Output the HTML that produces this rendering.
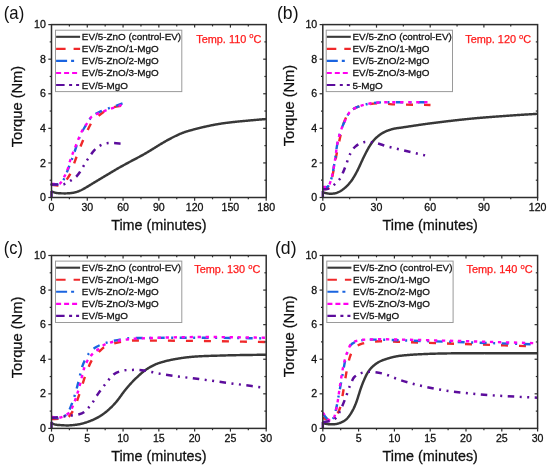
<!DOCTYPE html>
<html><head><meta charset="utf-8"><style>
html,body{margin:0;padding:0;background:#fff;width:550px;height:467px;overflow:hidden}
svg{display:block;font-family:"Liberation Sans",sans-serif;filter:blur(0.25px)}
text{stroke:currentColor;stroke-width:0.28px}
</style></head><body>
<svg width="550" height="467" viewBox="0 0 550 467">
<rect width="550" height="467" fill="#fff"/>
<path d="M51.50,191.44 L52.00,191.63 L52.50,191.82 L53.00,192.02 L53.50,192.20 L54.00,192.37 L54.50,192.53 L55.00,192.67 L55.50,192.79 L56.00,192.89 L56.50,192.97 L57.00,193.04 L57.50,193.10 L58.00,193.15 L58.50,193.19 L59.00,193.22 L59.50,193.25 L60.00,193.28 L60.50,193.30 L61.00,193.33 L61.50,193.35 L62.00,193.36 L62.50,193.38 L63.00,193.39 L63.50,193.40 L64.00,193.41 L64.50,193.41 L65.00,193.41 L65.50,193.41 L66.00,193.40 L66.50,193.38 L67.00,193.37 L67.50,193.34 L68.00,193.32 L68.50,193.29 L69.00,193.25 L69.50,193.21 L70.00,193.16 L70.50,193.11 L71.00,193.05 L71.50,192.99 L72.00,192.92 L72.50,192.85 L73.00,192.77 L73.50,192.69 L74.00,192.60 L74.50,192.50 L75.00,192.39 L75.50,192.27 L76.00,192.14 L76.50,192.01 L77.00,191.86 L77.50,191.70 L78.00,191.53 L78.50,191.35 L79.00,191.15 L79.50,190.94 L80.00,190.72 L80.50,190.49 L81.00,190.25 L81.50,190.01 L82.00,189.75 L82.50,189.48 L83.00,189.21 L83.50,188.94 L84.00,188.65 L84.50,188.37 L85.00,188.08 L85.50,187.79 L86.00,187.50 L86.50,187.21 L87.00,186.91 L87.50,186.61 L88.00,186.32 L88.50,186.02 L89.00,185.71 L89.50,185.41 L90.00,185.11 L90.50,184.80 L91.00,184.50 L91.50,184.19 L92.00,183.89 L92.50,183.58 L93.00,183.27 L93.50,182.97 L94.00,182.66 L94.50,182.36 L95.00,182.06 L95.50,181.75 L96.00,181.45 L96.50,181.15 L97.00,180.85 L97.50,180.55 L98.00,180.25 L98.50,179.95 L99.00,179.65 L99.50,179.35 L100.00,179.05 L100.50,178.75 L101.00,178.45 L101.50,178.16 L102.00,177.86 L102.50,177.56 L103.00,177.26 L103.50,176.96 L104.00,176.67 L104.50,176.37 L105.00,176.07 L105.50,175.77 L106.00,175.47 L106.50,175.17 L107.00,174.88 L107.50,174.58 L108.00,174.28 L108.50,173.98 L109.00,173.68 L109.50,173.38 L110.00,173.08 L110.50,172.78 L111.00,172.47 L111.50,172.17 L112.00,171.88 L112.50,171.58 L113.00,171.28 L113.50,170.98 L114.00,170.68 L114.50,170.39 L115.00,170.09 L115.50,169.80 L116.00,169.50 L116.50,169.21 L117.00,168.92 L117.50,168.63 L118.00,168.35 L118.50,168.06 L119.00,167.78 L119.50,167.50 L120.00,167.21 L120.50,166.93 L121.00,166.65 L121.50,166.38 L122.00,166.10 L122.50,165.82 L123.00,165.55 L123.50,165.27 L124.00,165.00 L124.50,164.73 L125.00,164.46 L125.50,164.18 L126.00,163.91 L126.50,163.64 L127.00,163.37 L127.50,163.10 L128.00,162.83 L128.50,162.56 L129.00,162.29 L129.50,162.02 L130.00,161.76 L130.50,161.49 L131.00,161.22 L131.50,160.96 L132.00,160.69 L132.50,160.43 L133.00,160.16 L133.50,159.90 L134.00,159.64 L134.50,159.37 L135.00,159.11 L135.50,158.85 L136.00,158.58 L136.50,158.32 L137.00,158.06 L137.50,157.79 L138.00,157.53 L138.50,157.26 L139.00,156.99 L139.50,156.72 L140.00,156.46 L140.50,156.18 L141.00,155.91 L141.50,155.64 L142.00,155.36 L142.50,155.09 L143.00,154.81 L143.50,154.53 L144.00,154.24 L144.50,153.96 L145.00,153.67 L145.50,153.38 L146.00,153.09 L146.50,152.80 L147.00,152.50 L147.50,152.21 L148.00,151.91 L148.50,151.61 L149.00,151.31 L149.50,151.00 L150.00,150.70 L150.50,150.39 L151.00,150.09 L151.50,149.78 L152.00,149.47 L152.50,149.16 L153.00,148.85 L153.50,148.54 L154.00,148.23 L154.50,147.92 L155.00,147.61 L155.50,147.29 L156.00,146.98 L156.50,146.67 L157.00,146.36 L157.50,146.05 L158.00,145.74 L158.50,145.44 L159.00,145.13 L159.50,144.82 L160.00,144.52 L160.50,144.22 L161.00,143.91 L161.50,143.61 L162.00,143.32 L162.50,143.02 L163.00,142.73 L163.50,142.43 L164.00,142.14 L164.50,141.85 L165.00,141.57 L165.50,141.28 L166.00,141.00 L166.50,140.72 L167.00,140.44 L167.50,140.17 L168.00,139.89 L168.50,139.62 L169.00,139.35 L169.50,139.08 L170.00,138.82 L170.50,138.55 L171.00,138.29 L171.50,138.03 L172.00,137.77 L172.50,137.52 L173.00,137.26 L173.50,137.01 L174.00,136.76 L174.50,136.51 L175.00,136.27 L175.50,136.02 L176.00,135.78 L176.50,135.54 L177.00,135.31 L177.50,135.07 L178.00,134.84 L178.50,134.61 L179.00,134.39 L179.50,134.16 L180.00,133.95 L180.50,133.73 L181.00,133.52 L181.50,133.32 L182.00,133.12 L182.50,132.92 L183.00,132.73 L183.50,132.55 L184.00,132.37 L184.50,132.19 L185.00,132.03 L185.50,131.86 L186.00,131.70 L186.50,131.54 L187.00,131.39 L187.50,131.24 L188.00,131.09 L188.50,130.94 L189.00,130.80 L189.50,130.65 L190.00,130.51 L190.50,130.37 L191.00,130.23 L191.50,130.09 L192.00,129.95 L192.50,129.81 L193.00,129.68 L193.50,129.54 L194.00,129.41 L194.50,129.28 L195.00,129.14 L195.50,129.01 L196.00,128.88 L196.50,128.75 L197.00,128.62 L197.50,128.50 L198.00,128.37 L198.50,128.24 L199.00,128.12 L199.50,127.99 L200.00,127.87 L200.50,127.75 L201.00,127.63 L201.50,127.51 L202.00,127.39 L202.50,127.27 L203.00,127.16 L203.50,127.04 L204.00,126.93 L204.50,126.81 L205.00,126.70 L205.50,126.59 L206.00,126.47 L206.50,126.36 L207.00,126.25 L207.50,126.15 L208.00,126.04 L208.50,125.93 L209.00,125.83 L209.50,125.72 L210.00,125.62 L210.50,125.51 L211.00,125.41 L211.50,125.31 L212.00,125.21 L212.50,125.11 L213.00,125.01 L213.50,124.92 L214.00,124.82 L214.50,124.73 L215.00,124.63 L215.50,124.54 L216.00,124.45 L216.50,124.36 L217.00,124.27 L217.50,124.19 L218.00,124.10 L218.50,124.02 L219.00,123.93 L219.50,123.85 L220.00,123.77 L220.50,123.69 L221.00,123.62 L221.50,123.54 L222.00,123.47 L222.50,123.39 L223.00,123.32 L223.50,123.25 L224.00,123.18 L224.50,123.11 L225.00,123.04 L225.50,122.98 L226.00,122.91 L226.50,122.85 L227.00,122.78 L227.50,122.72 L228.00,122.66 L228.50,122.60 L229.00,122.54 L229.50,122.48 L230.00,122.42 L230.50,122.36 L231.00,122.30 L231.50,122.24 L232.00,122.19 L232.50,122.13 L233.00,122.07 L233.50,122.02 L234.00,121.96 L234.50,121.91 L235.00,121.85 L235.50,121.80 L236.00,121.75 L236.50,121.70 L237.00,121.65 L237.50,121.60 L238.00,121.55 L238.50,121.50 L239.00,121.45 L239.50,121.40 L240.00,121.35 L240.50,121.30 L241.00,121.26 L241.50,121.21 L242.00,121.16 L242.50,121.12 L243.00,121.07 L243.50,121.03 L244.00,120.98 L244.50,120.94 L245.00,120.89 L245.50,120.85 L246.00,120.80 L246.50,120.75 L247.00,120.71 L247.50,120.66 L248.00,120.62 L248.50,120.57 L249.00,120.53 L249.50,120.48 L250.00,120.44 L250.50,120.39 L251.00,120.34 L251.50,120.30 L252.00,120.25 L252.50,120.21 L253.00,120.16 L253.50,120.12 L254.00,120.07 L254.50,120.03 L255.00,119.98 L255.50,119.94 L256.00,119.89 L256.50,119.85 L257.00,119.80 L257.50,119.76 L258.00,119.71 L258.50,119.67 L259.00,119.63 L259.50,119.58 L260.00,119.54 L260.50,119.49 L261.00,119.45 L261.50,119.41 L262.00,119.36 L262.50,119.32 L263.00,119.28 L263.50,119.24 L264.00,119.21 L264.50,119.17 L265.00,119.14 L265.50,119.11 L266.00,119.09" fill="none" stroke="#383838" stroke-width="2.45" stroke-dasharray="none" stroke-linejoin="round"/>
<path d="M51.50,184.80 C53.53,185.03 55.57,185.50 57.60,185.50 C59.40,185.50 61.20,185.91 63.00,184.80 C64.17,184.08 65.33,181.73 66.50,180.00 C67.67,178.27 68.83,176.57 70.00,174.40 C70.50,173.47 71.00,172.04 71.50,170.70 C73.23,166.04 74.97,160.95 76.70,156.40 C78.97,150.45 81.23,144.41 83.50,139.20 C86.00,133.45 88.50,128.12 91.00,123.50 C92.00,121.65 93.00,120.72 94.00,119.80 C97.20,116.85 100.40,114.05 103.60,111.90 C106.47,109.98 109.33,108.55 112.20,107.60 C115.77,106.42 119.33,106.20 122.90,105.50" fill="none" stroke="#f0282a" stroke-width="2.4" stroke-dasharray="7 11" stroke-linejoin="round"/>
<path d="M51.50,184.40 C53.33,184.40 55.17,184.68 57.00,184.40 C58.27,184.21 59.53,184.00 60.80,183.00 C61.87,182.16 62.93,181.12 64.00,178.90 C66.23,174.25 68.47,168.12 70.70,162.40 C71.97,159.15 73.23,155.65 74.50,152.00 C76.00,147.68 77.50,142.21 79.00,138.50 C80.73,134.21 82.47,130.98 84.20,128.00 C86.70,123.71 89.20,119.35 91.70,116.70 C94.23,114.02 96.77,113.25 99.30,112.00 C102.17,110.58 105.03,109.76 107.90,108.70 C112.90,106.86 117.90,105.10 122.90,103.30" fill="none" stroke="#1a64e0" stroke-width="2.4" stroke-dasharray="7 6.5 2 6.5" stroke-linejoin="round"/>
<path d="M51.50,184.00 C52.67,184.00 53.83,184.07 55.00,184.00 C56.67,183.90 58.33,184.89 60.00,183.50 C61.57,182.19 63.13,178.81 64.70,175.90 C65.70,174.04 66.70,172.01 67.70,169.20 C68.47,167.04 69.23,163.39 70.00,161.00 C71.00,157.89 72.00,155.33 73.00,152.70 C74.00,150.07 75.00,147.70 76.00,145.20 C77.00,142.70 78.00,140.07 79.00,137.70 C80.00,135.33 81.00,132.80 82.00,131.00 C83.50,128.30 85.00,126.41 86.50,124.20 C88.23,121.64 89.97,118.22 91.70,116.70 C94.23,114.48 96.77,114.07 99.30,113.00 C102.87,111.50 106.43,110.30 110.00,109.00 C114.30,107.43 118.60,105.93 122.90,104.40" fill="none" stroke="#ff00f0" stroke-width="2.4" stroke-dasharray="3.3 4.7" stroke-linejoin="round"/>
<path d="M51.50,197.50 L51.50,183.50" fill="none" stroke="#5c0c9c" stroke-width="2.5" stroke-dasharray="6.5 5.5 2 5.5 2 5.5" stroke-linejoin="round"/>
<path d="M51.50,184.40 C53.33,184.47 55.17,184.57 57.00,184.60 C59.00,184.63 61.00,185.12 63.00,184.60 C65.13,184.05 67.27,182.65 69.40,181.40 C71.53,180.15 73.67,179.01 75.80,177.10 C77.23,175.81 78.67,173.94 80.10,171.80 C82.23,168.61 84.37,164.30 86.50,161.10 C89.37,156.80 92.23,152.17 95.10,149.30 C97.93,146.47 100.77,145.06 103.60,144.00 C106.47,142.93 109.33,142.90 112.20,142.90 C115.77,142.90 119.33,143.63 122.90,144.00" fill="none" stroke="#5c0c9c" stroke-width="2.5" stroke-dasharray="6.5 5.5 2 5.5 2 5.5" stroke-linejoin="round"/>
<rect x="51.50" y="24.60" width="214.70" height="172.90" fill="none" stroke="#2e2e2e" stroke-width="1.5"/>
<line x1="48.30" y1="197.50" x2="51.50" y2="197.50" stroke="#2e2e2e" stroke-width="1.2"/>
<text x="45.90" y="201.10" text-anchor="end" font-size="10.6" fill="#111" color="#111">0</text>
<line x1="49.70" y1="180.21" x2="51.50" y2="180.21" stroke="#2e2e2e" stroke-width="1.2"/>
<line x1="266.20" y1="180.21" x2="264.40" y2="180.21" stroke="#2e2e2e" stroke-width="1.2"/>
<line x1="48.30" y1="162.92" x2="51.50" y2="162.92" stroke="#2e2e2e" stroke-width="1.2"/>
<text x="45.90" y="166.52" text-anchor="end" font-size="10.6" fill="#111" color="#111">2</text>
<line x1="266.20" y1="162.92" x2="263.20" y2="162.92" stroke="#2e2e2e" stroke-width="1.2"/>
<line x1="49.70" y1="145.63" x2="51.50" y2="145.63" stroke="#2e2e2e" stroke-width="1.2"/>
<line x1="266.20" y1="145.63" x2="264.40" y2="145.63" stroke="#2e2e2e" stroke-width="1.2"/>
<line x1="48.30" y1="128.34" x2="51.50" y2="128.34" stroke="#2e2e2e" stroke-width="1.2"/>
<text x="45.90" y="131.94" text-anchor="end" font-size="10.6" fill="#111" color="#111">4</text>
<line x1="266.20" y1="128.34" x2="263.20" y2="128.34" stroke="#2e2e2e" stroke-width="1.2"/>
<line x1="49.70" y1="111.05" x2="51.50" y2="111.05" stroke="#2e2e2e" stroke-width="1.2"/>
<line x1="266.20" y1="111.05" x2="264.40" y2="111.05" stroke="#2e2e2e" stroke-width="1.2"/>
<line x1="48.30" y1="93.76" x2="51.50" y2="93.76" stroke="#2e2e2e" stroke-width="1.2"/>
<text x="45.90" y="97.36" text-anchor="end" font-size="10.6" fill="#111" color="#111">6</text>
<line x1="266.20" y1="93.76" x2="263.20" y2="93.76" stroke="#2e2e2e" stroke-width="1.2"/>
<line x1="49.70" y1="76.47" x2="51.50" y2="76.47" stroke="#2e2e2e" stroke-width="1.2"/>
<line x1="266.20" y1="76.47" x2="264.40" y2="76.47" stroke="#2e2e2e" stroke-width="1.2"/>
<line x1="48.30" y1="59.18" x2="51.50" y2="59.18" stroke="#2e2e2e" stroke-width="1.2"/>
<text x="45.90" y="62.78" text-anchor="end" font-size="10.6" fill="#111" color="#111">8</text>
<line x1="266.20" y1="59.18" x2="263.20" y2="59.18" stroke="#2e2e2e" stroke-width="1.2"/>
<line x1="49.70" y1="41.89" x2="51.50" y2="41.89" stroke="#2e2e2e" stroke-width="1.2"/>
<line x1="266.20" y1="41.89" x2="264.40" y2="41.89" stroke="#2e2e2e" stroke-width="1.2"/>
<line x1="48.30" y1="24.60" x2="51.50" y2="24.60" stroke="#2e2e2e" stroke-width="1.2"/>
<text x="45.90" y="28.20" text-anchor="end" font-size="10.6" fill="#111" color="#111">10</text>
<line x1="51.50" y1="197.50" x2="51.50" y2="200.70" stroke="#2e2e2e" stroke-width="1.2"/>
<text x="51.50" y="211.10" text-anchor="middle" font-size="10.6" fill="#111" color="#111">0</text>
<line x1="69.39" y1="197.50" x2="69.39" y2="199.30" stroke="#2e2e2e" stroke-width="1.2"/>
<line x1="69.39" y1="24.60" x2="69.39" y2="26.40" stroke="#2e2e2e" stroke-width="1.2"/>
<line x1="87.28" y1="197.50" x2="87.28" y2="200.70" stroke="#2e2e2e" stroke-width="1.2"/>
<text x="87.28" y="211.10" text-anchor="middle" font-size="10.6" fill="#111" color="#111">30</text>
<line x1="87.28" y1="24.60" x2="87.28" y2="27.60" stroke="#2e2e2e" stroke-width="1.2"/>
<line x1="105.17" y1="197.50" x2="105.17" y2="199.30" stroke="#2e2e2e" stroke-width="1.2"/>
<line x1="105.17" y1="24.60" x2="105.17" y2="26.40" stroke="#2e2e2e" stroke-width="1.2"/>
<line x1="123.07" y1="197.50" x2="123.07" y2="200.70" stroke="#2e2e2e" stroke-width="1.2"/>
<text x="123.07" y="211.10" text-anchor="middle" font-size="10.6" fill="#111" color="#111">60</text>
<line x1="123.07" y1="24.60" x2="123.07" y2="27.60" stroke="#2e2e2e" stroke-width="1.2"/>
<line x1="140.96" y1="197.50" x2="140.96" y2="199.30" stroke="#2e2e2e" stroke-width="1.2"/>
<line x1="140.96" y1="24.60" x2="140.96" y2="26.40" stroke="#2e2e2e" stroke-width="1.2"/>
<line x1="158.85" y1="197.50" x2="158.85" y2="200.70" stroke="#2e2e2e" stroke-width="1.2"/>
<text x="158.85" y="211.10" text-anchor="middle" font-size="10.6" fill="#111" color="#111">90</text>
<line x1="158.85" y1="24.60" x2="158.85" y2="27.60" stroke="#2e2e2e" stroke-width="1.2"/>
<line x1="176.74" y1="197.50" x2="176.74" y2="199.30" stroke="#2e2e2e" stroke-width="1.2"/>
<line x1="176.74" y1="24.60" x2="176.74" y2="26.40" stroke="#2e2e2e" stroke-width="1.2"/>
<line x1="194.63" y1="197.50" x2="194.63" y2="200.70" stroke="#2e2e2e" stroke-width="1.2"/>
<text x="194.63" y="211.10" text-anchor="middle" font-size="10.6" fill="#111" color="#111">120</text>
<line x1="194.63" y1="24.60" x2="194.63" y2="27.60" stroke="#2e2e2e" stroke-width="1.2"/>
<line x1="212.53" y1="197.50" x2="212.53" y2="199.30" stroke="#2e2e2e" stroke-width="1.2"/>
<line x1="212.53" y1="24.60" x2="212.53" y2="26.40" stroke="#2e2e2e" stroke-width="1.2"/>
<line x1="230.42" y1="197.50" x2="230.42" y2="200.70" stroke="#2e2e2e" stroke-width="1.2"/>
<text x="230.42" y="211.10" text-anchor="middle" font-size="10.6" fill="#111" color="#111">150</text>
<line x1="230.42" y1="24.60" x2="230.42" y2="27.60" stroke="#2e2e2e" stroke-width="1.2"/>
<line x1="248.31" y1="197.50" x2="248.31" y2="199.30" stroke="#2e2e2e" stroke-width="1.2"/>
<line x1="248.31" y1="24.60" x2="248.31" y2="26.40" stroke="#2e2e2e" stroke-width="1.2"/>
<line x1="266.20" y1="197.50" x2="266.20" y2="200.70" stroke="#2e2e2e" stroke-width="1.2"/>
<text x="266.20" y="211.10" text-anchor="middle" font-size="10.6" fill="#111" color="#111">180</text>
<text x="158.85" y="229.60" text-anchor="middle" font-size="14.4" fill="#111" color="#111">Time (minutes)</text>
<text transform="translate(22.20,106.55) rotate(-90)" text-anchor="middle" font-size="14.7" fill="#111" color="#111">Torque (Nm)</text>
<rect x="55.50" y="30.20" width="126.3" height="61.4" fill="#fff" stroke="#9a9a9a" stroke-width="1"/>
<line x1="56.10" y1="36.80" x2="80.10" y2="36.80" stroke="#383838" stroke-width="2.1" stroke-dasharray="none"/>
<text x="81.80" y="40.30" font-size="9.9" fill="#111" color="#111">EV/5-ZnO (control-EV)</text>
<line x1="56.10" y1="48.85" x2="80.10" y2="48.85" stroke="#f0282a" stroke-width="2.1" stroke-dasharray="9.5 8"/>
<text x="81.80" y="52.35" font-size="9.9" fill="#111" color="#111">EV/5-ZnO/1-MgO</text>
<line x1="56.10" y1="60.90" x2="80.10" y2="60.90" stroke="#1a64e0" stroke-width="2.1" stroke-dasharray="11 4 3 10"/>
<text x="81.80" y="64.40" font-size="9.9" fill="#111" color="#111">EV/5-ZnO/2-MgO</text>
<line x1="56.10" y1="72.95" x2="80.10" y2="72.95" stroke="#ff00f0" stroke-width="2.1" stroke-dasharray="5 3"/>
<text x="81.80" y="76.45" font-size="9.9" fill="#111" color="#111">EV/5-ZnO/3-MgO</text>
<line x1="56.10" y1="85.00" x2="80.10" y2="85.00" stroke="#5c0c9c" stroke-width="2.1" stroke-dasharray="8.5 4.5 3 4 3 4"/>
<text x="81.80" y="88.50" font-size="9.9" fill="#111" color="#111">EV/5-MgO</text>
<text x="261.40" y="42.50" text-anchor="end" font-size="10.9" fill="#ff1a1a" color="#ff1a1a" style="stroke-width:0.25px">Temp. 110 <tspan font-size="7.6" dy="-4.2">o</tspan><tspan dy="4.2">C</tspan></text>
<text transform="translate(3.80,19.00) scale(0.940,1)" font-size="17.8" fill="#111" style="stroke:none">(a)</text>
<path d="M322.80,192.46 L323.30,192.56 L323.80,192.66 L324.30,192.78 L324.80,192.90 L325.30,193.01 L325.80,193.12 L326.30,193.22 L326.80,193.32 L327.30,193.41 L327.80,193.50 L328.30,193.58 L328.80,193.64 L329.30,193.70 L329.80,193.73 L330.30,193.75 L330.80,193.76 L331.30,193.75 L331.80,193.73 L332.30,193.69 L332.80,193.65 L333.30,193.59 L333.80,193.52 L334.30,193.44 L334.80,193.34 L335.30,193.23 L335.80,193.11 L336.30,192.97 L336.80,192.81 L337.30,192.64 L337.80,192.45 L338.30,192.23 L338.80,192.00 L339.30,191.75 L339.80,191.49 L340.30,191.20 L340.80,190.90 L341.30,190.58 L341.80,190.24 L342.30,189.89 L342.80,189.52 L343.30,189.14 L343.80,188.75 L344.30,188.34 L344.80,187.92 L345.30,187.49 L345.80,187.04 L346.30,186.58 L346.80,186.10 L347.30,185.61 L347.80,185.09 L348.30,184.56 L348.80,184.00 L349.30,183.43 L349.80,182.83 L350.30,182.21 L350.80,181.57 L351.30,180.90 L351.80,180.20 L352.30,179.48 L352.80,178.74 L353.30,177.96 L353.80,177.16 L354.30,176.33 L354.80,175.47 L355.30,174.59 L355.80,173.68 L356.30,172.75 L356.80,171.80 L357.30,170.83 L357.80,169.83 L358.30,168.81 L358.80,167.77 L359.30,166.70 L359.80,165.62 L360.30,164.53 L360.80,163.44 L361.30,162.34 L361.80,161.24 L362.30,160.15 L362.80,159.07 L363.30,158.01 L363.80,156.97 L364.30,155.95 L364.80,154.95 L365.30,153.97 L365.80,153.00 L366.30,152.04 L366.80,151.10 L367.30,150.17 L367.80,149.25 L368.30,148.35 L368.80,147.48 L369.30,146.62 L369.80,145.79 L370.30,144.99 L370.80,144.22 L371.30,143.49 L371.80,142.79 L372.30,142.12 L372.80,141.49 L373.30,140.88 L373.80,140.30 L374.30,139.74 L374.80,139.21 L375.30,138.70 L375.80,138.20 L376.30,137.72 L376.80,137.26 L377.30,136.82 L377.80,136.39 L378.30,135.98 L378.80,135.58 L379.30,135.20 L379.80,134.83 L380.30,134.47 L380.80,134.12 L381.30,133.79 L381.80,133.46 L382.30,133.15 L382.80,132.86 L383.30,132.57 L383.80,132.30 L384.30,132.05 L384.80,131.80 L385.30,131.57 L385.80,131.35 L386.30,131.14 L386.80,130.94 L387.30,130.75 L387.80,130.57 L388.30,130.39 L388.80,130.22 L389.30,130.05 L389.80,129.89 L390.30,129.74 L390.80,129.58 L391.30,129.43 L391.80,129.28 L392.30,129.13 L392.80,128.99 L393.30,128.86 L393.80,128.74 L394.30,128.63 L394.80,128.53 L395.30,128.44 L395.80,128.36 L396.30,128.28 L396.80,128.21 L397.30,128.14 L397.80,128.08 L398.30,128.02 L398.80,127.95 L399.30,127.89 L399.80,127.82 L400.30,127.75 L400.80,127.68 L401.30,127.60 L401.80,127.53 L402.30,127.45 L402.80,127.38 L403.30,127.30 L403.80,127.23 L404.30,127.15 L404.80,127.08 L405.30,127.00 L405.80,126.93 L406.30,126.85 L406.80,126.77 L407.30,126.70 L407.80,126.62 L408.30,126.55 L408.80,126.47 L409.30,126.40 L409.80,126.32 L410.30,126.24 L410.80,126.17 L411.30,126.09 L411.80,126.02 L412.30,125.94 L412.80,125.87 L413.30,125.79 L413.80,125.72 L414.30,125.64 L414.80,125.57 L415.30,125.49 L415.80,125.42 L416.30,125.34 L416.80,125.27 L417.30,125.19 L417.80,125.12 L418.30,125.05 L418.80,124.97 L419.30,124.90 L419.80,124.83 L420.30,124.76 L420.80,124.68 L421.30,124.61 L421.80,124.54 L422.30,124.47 L422.80,124.40 L423.30,124.33 L423.80,124.26 L424.30,124.19 L424.80,124.12 L425.30,124.05 L425.80,123.98 L426.30,123.91 L426.80,123.84 L427.30,123.78 L427.80,123.71 L428.30,123.64 L428.80,123.57 L429.30,123.51 L429.80,123.44 L430.30,123.38 L430.80,123.31 L431.30,123.25 L431.80,123.19 L432.30,123.12 L432.80,123.06 L433.30,122.99 L433.80,122.93 L434.30,122.87 L434.80,122.80 L435.30,122.74 L435.80,122.68 L436.30,122.61 L436.80,122.55 L437.30,122.49 L437.80,122.43 L438.30,122.36 L438.80,122.30 L439.30,122.24 L439.80,122.18 L440.30,122.12 L440.80,122.05 L441.30,121.99 L441.80,121.93 L442.30,121.87 L442.80,121.81 L443.30,121.75 L443.80,121.69 L444.30,121.63 L444.80,121.57 L445.30,121.51 L445.80,121.45 L446.30,121.39 L446.80,121.33 L447.30,121.27 L447.80,121.21 L448.30,121.15 L448.80,121.09 L449.30,121.03 L449.80,120.97 L450.30,120.91 L450.80,120.85 L451.30,120.80 L451.80,120.74 L452.30,120.68 L452.80,120.62 L453.30,120.56 L453.80,120.51 L454.30,120.45 L454.80,120.39 L455.30,120.34 L455.80,120.28 L456.30,120.22 L456.80,120.17 L457.30,120.11 L457.80,120.06 L458.30,120.00 L458.80,119.95 L459.30,119.89 L459.80,119.84 L460.30,119.78 L460.80,119.73 L461.30,119.67 L461.80,119.62 L462.30,119.57 L462.80,119.51 L463.30,119.46 L463.80,119.41 L464.30,119.36 L464.80,119.30 L465.30,119.25 L465.80,119.20 L466.30,119.15 L466.80,119.10 L467.30,119.05 L467.80,119.00 L468.30,118.95 L468.80,118.90 L469.30,118.85 L469.80,118.80 L470.30,118.75 L470.80,118.70 L471.30,118.65 L471.80,118.60 L472.30,118.55 L472.80,118.51 L473.30,118.46 L473.80,118.41 L474.30,118.36 L474.80,118.32 L475.30,118.27 L475.80,118.23 L476.30,118.18 L476.80,118.14 L477.30,118.09 L477.80,118.05 L478.30,118.00 L478.80,117.96 L479.30,117.92 L479.80,117.87 L480.30,117.83 L480.80,117.79 L481.30,117.75 L481.80,117.70 L482.30,117.66 L482.80,117.62 L483.30,117.58 L483.80,117.54 L484.30,117.50 L484.80,117.46 L485.30,117.42 L485.80,117.38 L486.30,117.34 L486.80,117.30 L487.30,117.26 L487.80,117.22 L488.30,117.18 L488.80,117.14 L489.30,117.10 L489.80,117.07 L490.30,117.03 L490.80,116.99 L491.30,116.95 L491.80,116.91 L492.30,116.88 L492.80,116.84 L493.30,116.80 L493.80,116.76 L494.30,116.73 L494.80,116.69 L495.30,116.65 L495.80,116.62 L496.30,116.58 L496.80,116.54 L497.30,116.51 L497.80,116.47 L498.30,116.43 L498.80,116.40 L499.30,116.36 L499.80,116.33 L500.30,116.29 L500.80,116.25 L501.30,116.22 L501.80,116.18 L502.30,116.15 L502.80,116.11 L503.30,116.08 L503.80,116.04 L504.30,116.00 L504.80,115.97 L505.30,115.93 L505.80,115.90 L506.30,115.86 L506.80,115.83 L507.30,115.79 L507.80,115.75 L508.30,115.72 L508.80,115.68 L509.30,115.65 L509.80,115.61 L510.30,115.57 L510.80,115.54 L511.30,115.50 L511.80,115.47 L512.30,115.43 L512.80,115.39 L513.30,115.36 L513.80,115.32 L514.30,115.29 L514.80,115.25 L515.30,115.22 L515.80,115.18 L516.30,115.15 L516.80,115.11 L517.30,115.08 L517.80,115.04 L518.30,115.01 L518.80,114.98 L519.30,114.95 L519.80,114.91 L520.30,114.88 L520.80,114.85 L521.30,114.82 L521.80,114.78 L522.30,114.75 L522.80,114.72 L523.30,114.69 L523.80,114.66 L524.30,114.63 L524.80,114.59 L525.30,114.56 L525.80,114.53 L526.30,114.50 L526.80,114.47 L527.30,114.44 L527.80,114.41 L528.30,114.38 L528.80,114.35 L529.30,114.32 L529.80,114.29 L530.30,114.26 L530.80,114.23 L531.30,114.19 L531.80,114.16 L532.30,114.13 L532.80,114.10 L533.30,114.07 L533.80,114.04 L534.30,114.01 L534.80,113.98 L535.30,113.95 L535.80,113.92 L536.30,113.89 L536.80,113.86 L537.30,113.84 L537.60,113.82" fill="none" stroke="#383838" stroke-width="2.45" stroke-dasharray="none" stroke-linejoin="round"/>
<path d="M322.80,189.00 C325.07,188.27 327.33,190.97 329.60,186.80 C331.03,184.17 332.47,175.35 333.90,168.60 C334.97,163.58 336.03,156.85 337.10,151.50 C338.17,146.15 339.23,141.13 340.30,136.50 C341.37,131.87 342.43,126.61 343.50,123.70 C345.30,118.78 347.10,115.05 348.90,113.00 C352.10,109.35 355.30,107.67 358.50,106.60 C364.93,104.44 371.37,103.69 377.80,103.30 C383.50,102.96 389.20,104.22 394.90,104.40 C406.77,104.78 418.63,104.80 430.50,105.00" fill="none" stroke="#f0282a" stroke-width="2.4" stroke-dasharray="7 11" stroke-linejoin="round"/>
<path d="M322.80,188.00 C324.73,187.23 326.67,188.04 328.60,185.70 C329.67,184.41 330.73,181.38 331.80,177.10 C332.87,172.82 333.93,166.44 335.00,160.00 C335.70,155.77 336.40,148.77 337.10,145.10 C338.17,139.51 339.23,135.56 340.30,132.20 C341.73,127.69 343.17,124.53 344.60,121.50 C346.37,117.76 348.13,113.79 349.90,111.90 C352.77,108.83 355.63,107.75 358.50,106.60 C362.77,104.89 367.03,104.01 371.30,103.30 C375.60,102.58 379.90,102.45 384.20,102.30 C389.47,102.12 394.73,102.30 400.00,102.30 C410.17,102.30 420.33,102.30 430.50,102.30" fill="none" stroke="#1a64e0" stroke-width="2.4" stroke-dasharray="7 6.5 2 6.5" stroke-linejoin="round"/>
<path d="M322.80,187.00 C324.73,186.57 326.67,187.83 328.60,185.70 C329.67,184.53 330.73,181.38 331.80,177.10 C332.87,172.82 333.93,166.44 335.00,160.00 C335.70,155.77 336.40,148.77 337.10,145.10 C338.17,139.51 339.23,135.56 340.30,132.20 C341.73,127.69 343.17,124.53 344.60,121.50 C346.37,117.76 348.13,113.79 349.90,111.90 C352.77,108.83 355.63,107.75 358.50,106.60 C362.77,104.89 367.03,104.01 371.30,103.30 C375.60,102.58 379.90,102.45 384.20,102.30 C389.47,102.12 394.73,102.30 400.00,102.30 C410.17,102.30 420.33,102.30 430.50,102.30" fill="none" stroke="#ff00f0" stroke-width="2.4" stroke-dasharray="3.3 4.7" stroke-linejoin="round"/>
<path d="M322.80,197.50 L322.80,186.00" fill="none" stroke="#5c0c9c" stroke-width="2.5" stroke-dasharray="6.5 5.5 2 5.5 2 5.5" stroke-linejoin="round"/>
<path d="M322.80,189.50 C324.73,189.20 326.67,189.51 328.60,188.60 C330.90,187.51 333.20,185.57 335.50,183.50 C337.23,181.94 338.97,180.24 340.70,177.70 C341.47,176.58 342.23,174.34 343.00,172.50 C344.00,170.10 345.00,167.61 346.00,165.00 C347.30,161.61 348.60,157.07 349.90,154.50 C351.70,150.94 353.50,148.11 355.30,146.60 C358.50,143.91 361.70,142.48 364.90,141.90 C368.47,141.25 372.03,142.20 375.60,142.90 C379.17,143.60 382.73,145.13 386.30,146.10 C390.57,147.26 394.83,148.28 399.10,149.30 C407.90,151.41 416.70,153.43 425.50,155.50" fill="none" stroke="#5c0c9c" stroke-width="2.5" stroke-dasharray="6.5 5.5 2 5.5 2 5.5" stroke-linejoin="round"/>
<rect x="322.80" y="24.60" width="214.80" height="172.90" fill="none" stroke="#2e2e2e" stroke-width="1.5"/>
<line x1="319.60" y1="197.50" x2="322.80" y2="197.50" stroke="#2e2e2e" stroke-width="1.2"/>
<text x="317.20" y="201.10" text-anchor="end" font-size="10.6" fill="#111" color="#111">0</text>
<line x1="321.00" y1="180.21" x2="322.80" y2="180.21" stroke="#2e2e2e" stroke-width="1.2"/>
<line x1="537.60" y1="180.21" x2="535.80" y2="180.21" stroke="#2e2e2e" stroke-width="1.2"/>
<line x1="319.60" y1="162.92" x2="322.80" y2="162.92" stroke="#2e2e2e" stroke-width="1.2"/>
<text x="317.20" y="166.52" text-anchor="end" font-size="10.6" fill="#111" color="#111">2</text>
<line x1="537.60" y1="162.92" x2="534.60" y2="162.92" stroke="#2e2e2e" stroke-width="1.2"/>
<line x1="321.00" y1="145.63" x2="322.80" y2="145.63" stroke="#2e2e2e" stroke-width="1.2"/>
<line x1="537.60" y1="145.63" x2="535.80" y2="145.63" stroke="#2e2e2e" stroke-width="1.2"/>
<line x1="319.60" y1="128.34" x2="322.80" y2="128.34" stroke="#2e2e2e" stroke-width="1.2"/>
<text x="317.20" y="131.94" text-anchor="end" font-size="10.6" fill="#111" color="#111">4</text>
<line x1="537.60" y1="128.34" x2="534.60" y2="128.34" stroke="#2e2e2e" stroke-width="1.2"/>
<line x1="321.00" y1="111.05" x2="322.80" y2="111.05" stroke="#2e2e2e" stroke-width="1.2"/>
<line x1="537.60" y1="111.05" x2="535.80" y2="111.05" stroke="#2e2e2e" stroke-width="1.2"/>
<line x1="319.60" y1="93.76" x2="322.80" y2="93.76" stroke="#2e2e2e" stroke-width="1.2"/>
<text x="317.20" y="97.36" text-anchor="end" font-size="10.6" fill="#111" color="#111">6</text>
<line x1="537.60" y1="93.76" x2="534.60" y2="93.76" stroke="#2e2e2e" stroke-width="1.2"/>
<line x1="321.00" y1="76.47" x2="322.80" y2="76.47" stroke="#2e2e2e" stroke-width="1.2"/>
<line x1="537.60" y1="76.47" x2="535.80" y2="76.47" stroke="#2e2e2e" stroke-width="1.2"/>
<line x1="319.60" y1="59.18" x2="322.80" y2="59.18" stroke="#2e2e2e" stroke-width="1.2"/>
<text x="317.20" y="62.78" text-anchor="end" font-size="10.6" fill="#111" color="#111">8</text>
<line x1="537.60" y1="59.18" x2="534.60" y2="59.18" stroke="#2e2e2e" stroke-width="1.2"/>
<line x1="321.00" y1="41.89" x2="322.80" y2="41.89" stroke="#2e2e2e" stroke-width="1.2"/>
<line x1="537.60" y1="41.89" x2="535.80" y2="41.89" stroke="#2e2e2e" stroke-width="1.2"/>
<line x1="319.60" y1="24.60" x2="322.80" y2="24.60" stroke="#2e2e2e" stroke-width="1.2"/>
<text x="317.20" y="28.20" text-anchor="end" font-size="10.6" fill="#111" color="#111">10</text>
<line x1="322.80" y1="197.50" x2="322.80" y2="200.70" stroke="#2e2e2e" stroke-width="1.2"/>
<text x="322.80" y="211.10" text-anchor="middle" font-size="10.6" fill="#111" color="#111">0</text>
<line x1="349.65" y1="197.50" x2="349.65" y2="199.30" stroke="#2e2e2e" stroke-width="1.2"/>
<line x1="349.65" y1="24.60" x2="349.65" y2="26.40" stroke="#2e2e2e" stroke-width="1.2"/>
<line x1="376.50" y1="197.50" x2="376.50" y2="200.70" stroke="#2e2e2e" stroke-width="1.2"/>
<text x="376.50" y="211.10" text-anchor="middle" font-size="10.6" fill="#111" color="#111">30</text>
<line x1="376.50" y1="24.60" x2="376.50" y2="27.60" stroke="#2e2e2e" stroke-width="1.2"/>
<line x1="403.35" y1="197.50" x2="403.35" y2="199.30" stroke="#2e2e2e" stroke-width="1.2"/>
<line x1="403.35" y1="24.60" x2="403.35" y2="26.40" stroke="#2e2e2e" stroke-width="1.2"/>
<line x1="430.20" y1="197.50" x2="430.20" y2="200.70" stroke="#2e2e2e" stroke-width="1.2"/>
<text x="430.20" y="211.10" text-anchor="middle" font-size="10.6" fill="#111" color="#111">60</text>
<line x1="430.20" y1="24.60" x2="430.20" y2="27.60" stroke="#2e2e2e" stroke-width="1.2"/>
<line x1="457.05" y1="197.50" x2="457.05" y2="199.30" stroke="#2e2e2e" stroke-width="1.2"/>
<line x1="457.05" y1="24.60" x2="457.05" y2="26.40" stroke="#2e2e2e" stroke-width="1.2"/>
<line x1="483.90" y1="197.50" x2="483.90" y2="200.70" stroke="#2e2e2e" stroke-width="1.2"/>
<text x="483.90" y="211.10" text-anchor="middle" font-size="10.6" fill="#111" color="#111">90</text>
<line x1="483.90" y1="24.60" x2="483.90" y2="27.60" stroke="#2e2e2e" stroke-width="1.2"/>
<line x1="510.75" y1="197.50" x2="510.75" y2="199.30" stroke="#2e2e2e" stroke-width="1.2"/>
<line x1="510.75" y1="24.60" x2="510.75" y2="26.40" stroke="#2e2e2e" stroke-width="1.2"/>
<line x1="537.60" y1="197.50" x2="537.60" y2="200.70" stroke="#2e2e2e" stroke-width="1.2"/>
<text x="537.60" y="211.10" text-anchor="middle" font-size="10.6" fill="#111" color="#111">120</text>
<text x="430.20" y="229.60" text-anchor="middle" font-size="14.4" fill="#111" color="#111">Time (minutes)</text>
<text transform="translate(293.50,105.55) rotate(-90)" text-anchor="middle" font-size="14.7" fill="#111" color="#111">Torque (Nm)</text>
<rect x="326.20" y="30.20" width="126.3" height="61.4" fill="#fff" stroke="#9a9a9a" stroke-width="1"/>
<line x1="326.80" y1="36.80" x2="350.80" y2="36.80" stroke="#383838" stroke-width="2.1" stroke-dasharray="none"/>
<text x="352.50" y="40.30" font-size="9.9" fill="#111" color="#111">EV/5-ZnO (control-EV)</text>
<line x1="326.80" y1="48.85" x2="350.80" y2="48.85" stroke="#f0282a" stroke-width="2.1" stroke-dasharray="9.5 8"/>
<text x="352.50" y="52.35" font-size="9.9" fill="#111" color="#111">EV/5-ZnO/1-MgO</text>
<line x1="326.80" y1="60.90" x2="350.80" y2="60.90" stroke="#1a64e0" stroke-width="2.1" stroke-dasharray="11 4 3 10"/>
<text x="352.50" y="64.40" font-size="9.9" fill="#111" color="#111">EV/5-ZnO/2-MgO</text>
<line x1="326.80" y1="72.95" x2="350.80" y2="72.95" stroke="#ff00f0" stroke-width="2.1" stroke-dasharray="5 3"/>
<text x="352.50" y="76.45" font-size="9.9" fill="#111" color="#111">EV/5-ZnO/3-MgO</text>
<line x1="326.80" y1="85.00" x2="350.80" y2="85.00" stroke="#5c0c9c" stroke-width="2.1" stroke-dasharray="8.5 4.5 3 4 3 4"/>
<text x="352.50" y="88.50" font-size="9.9" fill="#111" color="#111">5-MgO</text>
<text x="531.20" y="43.20" text-anchor="end" font-size="10.9" fill="#ff1a1a" color="#ff1a1a" style="stroke-width:0.25px">Temp. 120 <tspan font-size="7.6" dy="-4.2">o</tspan><tspan dy="4.2">C</tspan></text>
<text transform="translate(277.00,19.10) scale(0.990,1)" font-size="17.8" fill="#111" style="stroke:none">(b)</text>
<path d="M51.50,423.05 L52.00,423.28 L52.50,423.53 L53.00,423.78 L53.50,424.02 L54.00,424.22 L54.50,424.40 L55.00,424.53 L55.50,424.64 L56.00,424.73 L56.50,424.80 L57.00,424.86 L57.50,424.91 L58.00,424.95 L58.50,424.99 L59.00,425.02 L59.50,425.06 L60.00,425.09 L60.50,425.12 L61.00,425.14 L61.50,425.17 L62.00,425.20 L62.50,425.24 L63.00,425.27 L63.50,425.30 L64.00,425.32 L64.50,425.35 L65.00,425.37 L65.50,425.39 L66.00,425.41 L66.50,425.42 L67.00,425.43 L67.50,425.43 L68.00,425.42 L68.50,425.41 L69.00,425.39 L69.50,425.37 L70.00,425.34 L70.50,425.31 L71.00,425.28 L71.50,425.24 L72.00,425.20 L72.50,425.15 L73.00,425.11 L73.50,425.06 L74.00,425.00 L74.50,424.95 L75.00,424.89 L75.50,424.82 L76.00,424.76 L76.50,424.69 L77.00,424.61 L77.50,424.53 L78.00,424.45 L78.50,424.36 L79.00,424.27 L79.50,424.18 L80.00,424.08 L80.50,423.97 L81.00,423.86 L81.50,423.74 L82.00,423.62 L82.50,423.50 L83.00,423.36 L83.50,423.23 L84.00,423.08 L84.50,422.94 L85.00,422.79 L85.50,422.63 L86.00,422.47 L86.50,422.30 L87.00,422.14 L87.50,421.96 L88.00,421.79 L88.50,421.61 L89.00,421.42 L89.50,421.24 L90.00,421.05 L90.50,420.86 L91.00,420.66 L91.50,420.46 L92.00,420.26 L92.50,420.05 L93.00,419.84 L93.50,419.62 L94.00,419.40 L94.50,419.17 L95.00,418.94 L95.50,418.70 L96.00,418.45 L96.50,418.19 L97.00,417.93 L97.50,417.66 L98.00,417.38 L98.50,417.09 L99.00,416.80 L99.50,416.50 L100.00,416.19 L100.50,415.88 L101.00,415.56 L101.50,415.23 L102.00,414.89 L102.50,414.55 L103.00,414.20 L103.50,413.85 L104.00,413.48 L104.50,413.11 L105.00,412.73 L105.50,412.34 L106.00,411.94 L106.50,411.53 L107.00,411.12 L107.50,410.69 L108.00,410.26 L108.50,409.82 L109.00,409.37 L109.50,408.92 L110.00,408.45 L110.50,407.98 L111.00,407.50 L111.50,407.01 L112.00,406.52 L112.50,406.01 L113.00,405.50 L113.50,404.97 L114.00,404.44 L114.50,403.90 L115.00,403.34 L115.50,402.78 L116.00,402.20 L116.50,401.61 L117.00,401.00 L117.50,400.37 L118.00,399.73 L118.50,399.08 L119.00,398.41 L119.50,397.73 L120.00,397.05 L120.50,396.35 L121.00,395.66 L121.50,394.96 L122.00,394.27 L122.50,393.59 L123.00,392.91 L123.50,392.25 L124.00,391.59 L124.50,390.95 L125.00,390.32 L125.50,389.69 L126.00,389.07 L126.50,388.46 L127.00,387.86 L127.50,387.27 L128.00,386.68 L128.50,386.09 L129.00,385.52 L129.50,384.95 L130.00,384.39 L130.50,383.84 L131.00,383.30 L131.50,382.77 L132.00,382.25 L132.50,381.73 L133.00,381.22 L133.50,380.72 L134.00,380.21 L134.50,379.72 L135.00,379.22 L135.50,378.73 L136.00,378.24 L136.50,377.75 L137.00,377.27 L137.50,376.79 L138.00,376.31 L138.50,375.84 L139.00,375.38 L139.50,374.92 L140.00,374.47 L140.50,374.02 L141.00,373.58 L141.50,373.15 L142.00,372.73 L142.50,372.32 L143.00,371.91 L143.50,371.52 L144.00,371.13 L144.50,370.76 L145.00,370.40 L145.50,370.04 L146.00,369.69 L146.50,369.35 L147.00,369.02 L147.50,368.70 L148.00,368.38 L148.50,368.07 L149.00,367.77 L149.50,367.47 L150.00,367.17 L150.50,366.89 L151.00,366.61 L151.50,366.34 L152.00,366.07 L152.50,365.81 L153.00,365.56 L153.50,365.31 L154.00,365.07 L154.50,364.84 L155.00,364.61 L155.50,364.39 L156.00,364.18 L156.50,363.97 L157.00,363.77 L157.50,363.58 L158.00,363.40 L158.50,363.22 L159.00,363.05 L159.50,362.88 L160.00,362.72 L160.50,362.57 L161.00,362.41 L161.50,362.27 L162.00,362.12 L162.50,361.98 L163.00,361.84 L163.50,361.70 L164.00,361.57 L164.50,361.44 L165.00,361.30 L165.50,361.18 L166.00,361.05 L166.50,360.93 L167.00,360.80 L167.50,360.68 L168.00,360.57 L168.50,360.45 L169.00,360.33 L169.50,360.22 L170.00,360.11 L170.50,360.00 L171.00,359.90 L171.50,359.79 L172.00,359.69 L172.50,359.59 L173.00,359.49 L173.50,359.39 L174.00,359.30 L174.50,359.20 L175.00,359.11 L175.50,359.02 L176.00,358.93 L176.50,358.84 L177.00,358.76 L177.50,358.67 L178.00,358.59 L178.50,358.51 L179.00,358.43 L179.50,358.35 L180.00,358.27 L180.50,358.20 L181.00,358.12 L181.50,358.05 L182.00,357.98 L182.50,357.91 L183.00,357.84 L183.50,357.78 L184.00,357.71 L184.50,357.64 L185.00,357.58 L185.50,357.52 L186.00,357.46 L186.50,357.40 L187.00,357.34 L187.50,357.28 L188.00,357.23 L188.50,357.17 L189.00,357.12 L189.50,357.07 L190.00,357.02 L190.50,356.97 L191.00,356.92 L191.50,356.88 L192.00,356.83 L192.50,356.79 L193.00,356.75 L193.50,356.70 L194.00,356.66 L194.50,356.63 L195.00,356.59 L195.50,356.55 L196.00,356.52 L196.50,356.48 L197.00,356.45 L197.50,356.42 L198.00,356.39 L198.50,356.36 L199.00,356.33 L199.50,356.30 L200.00,356.27 L200.50,356.25 L201.00,356.22 L201.50,356.19 L202.00,356.17 L202.50,356.15 L203.00,356.12 L203.50,356.10 L204.00,356.08 L204.50,356.06 L205.00,356.04 L205.50,356.02 L206.00,356.00 L206.50,355.98 L207.00,355.97 L207.50,355.95 L208.00,355.93 L208.50,355.91 L209.00,355.90 L209.50,355.88 L210.00,355.87 L210.50,355.85 L211.00,355.84 L211.50,355.82 L212.00,355.81 L212.50,355.79 L213.00,355.78 L213.50,355.77 L214.00,355.75 L214.50,355.74 L215.00,355.72 L215.50,355.71 L216.00,355.70 L216.50,355.68 L217.00,355.67 L217.50,355.65 L218.00,355.64 L218.50,355.63 L219.00,355.61 L219.50,355.60 L220.00,355.58 L220.50,355.57 L221.00,355.55 L221.50,355.54 L222.00,355.52 L222.50,355.51 L223.00,355.49 L223.50,355.47 L224.00,355.46 L224.50,355.44 L225.00,355.43 L225.50,355.41 L226.00,355.40 L226.50,355.39 L227.00,355.37 L227.50,355.36 L228.00,355.34 L228.50,355.33 L229.00,355.32 L229.50,355.31 L230.00,355.29 L230.50,355.28 L231.00,355.27 L231.50,355.26 L232.00,355.25 L232.50,355.23 L233.00,355.22 L233.50,355.21 L234.00,355.20 L234.50,355.19 L235.00,355.18 L235.50,355.17 L236.00,355.16 L236.50,355.15 L237.00,355.14 L237.50,355.13 L238.00,355.12 L238.50,355.12 L239.00,355.11 L239.50,355.10 L240.00,355.09 L240.50,355.08 L241.00,355.07 L241.50,355.07 L242.00,355.06 L242.50,355.05 L243.00,355.04 L243.50,355.03 L244.00,355.03 L244.50,355.02 L245.00,355.01 L245.50,355.00 L246.00,355.00 L246.50,354.99 L247.00,354.98 L247.50,354.98 L248.00,354.97 L248.50,354.96 L249.00,354.96 L249.50,354.95 L250.00,354.94 L250.50,354.93 L251.00,354.93 L251.50,354.92 L252.00,354.91 L252.50,354.91 L253.00,354.90 L253.50,354.89 L254.00,354.89 L254.50,354.88 L255.00,354.87 L255.50,354.87 L256.00,354.86 L256.50,354.85 L257.00,354.84 L257.50,354.84 L258.00,354.83 L258.50,354.82 L259.00,354.82 L259.50,354.81 L260.00,354.80 L260.50,354.79 L261.00,354.78 L261.50,354.78 L262.00,354.77 L262.50,354.76 L263.00,354.75 L263.50,354.74 L264.00,354.74 L264.50,354.73 L265.00,354.72 L265.50,354.72 L266.00,354.71" fill="none" stroke="#383838" stroke-width="2.45" stroke-dasharray="none" stroke-linejoin="round"/>
<path d="M51.50,419.00 C53.90,418.97 56.30,419.07 58.70,418.90 C61.57,418.70 64.43,419.73 67.30,417.90 C69.43,416.53 71.57,413.60 73.70,409.30 C75.83,405.00 77.97,398.30 80.10,392.10 C81.90,386.87 83.70,379.90 85.50,375.00 C87.63,369.20 89.77,363.62 91.90,360.00 C94.40,355.76 96.90,353.88 99.40,351.40 C101.57,349.25 103.73,346.97 105.90,346.10 C112.30,343.54 118.70,341.98 125.10,341.10 C132.07,340.14 139.03,340.61 146.00,340.60 C164.00,340.58 182.00,340.79 200.00,341.00 C222.00,341.26 244.00,341.67 266.00,342.00" fill="none" stroke="#f0282a" stroke-width="2.4" stroke-dasharray="7 11" stroke-linejoin="round"/>
<path d="M51.50,417.50 C53.90,417.63 56.30,418.49 58.70,417.90 C61.57,417.19 64.43,417.29 67.30,413.60 C69.43,410.86 71.57,404.58 73.70,398.60 C75.13,394.58 76.57,388.97 78.00,383.60 C79.43,378.23 80.87,370.42 82.30,366.40 C84.43,360.42 86.57,356.56 88.70,353.60 C91.20,350.13 93.70,348.66 96.20,347.10 C99.43,345.09 102.67,343.84 105.90,342.90 C112.30,341.04 118.70,339.48 125.10,338.70 C132.07,337.85 139.03,338.09 146.00,338.00 C164.00,337.76 182.00,337.64 200.00,337.70 C222.00,337.77 244.00,338.17 266.00,338.40" fill="none" stroke="#1a64e0" stroke-width="2.4" stroke-dasharray="7 6.5 2 6.5" stroke-linejoin="round"/>
<path d="M51.50,416.80 C53.90,417.17 56.30,418.48 58.70,417.90 C62.27,417.04 65.83,415.83 69.40,412.50 C70.83,411.16 72.27,407.54 73.70,403.90 C75.50,399.34 77.30,394.02 79.10,387.90 C80.87,381.89 82.63,372.32 84.40,367.50 C86.57,361.59 88.73,358.52 90.90,355.70 C93.40,352.45 95.90,351.27 98.40,349.30 C100.90,347.33 103.40,344.80 105.90,343.90 C112.30,341.60 118.70,340.61 125.10,339.70 C132.07,338.71 139.03,338.45 146.00,338.20 C164.00,337.55 182.00,337.07 200.00,337.00 C222.00,336.91 244.00,337.47 266.00,337.70" fill="none" stroke="#ff00f0" stroke-width="2.4" stroke-dasharray="3.3 4.7" stroke-linejoin="round"/>
<path d="M51.50,428.30 L51.50,418.00" fill="none" stroke="#5c0c9c" stroke-width="2.5" stroke-dasharray="6.5 5.5 2 5.5 2 5.5" stroke-linejoin="round"/>
<path d="M51.50,417.90 C54.63,417.53 57.77,417.19 60.90,416.80 C63.73,416.45 66.57,416.08 69.40,415.70 C72.33,415.31 75.27,415.26 78.20,414.50 C80.30,413.96 82.40,413.48 84.50,411.80 C86.93,409.85 89.37,406.83 91.80,403.60 C93.93,400.77 96.07,396.65 98.20,393.60 C100.93,389.69 103.67,386.09 106.40,382.70 C108.80,379.72 111.20,376.42 113.60,374.50 C116.07,372.52 118.53,371.72 121.00,371.00 C123.70,370.22 126.40,370.10 129.10,370.00 C133.33,369.84 137.57,369.66 141.80,370.20 C149.07,371.13 156.33,373.27 163.60,374.40 C175.40,376.24 187.20,377.54 199.00,379.10 C210.83,380.67 222.67,382.25 234.50,383.80 C244.77,385.15 255.03,386.47 265.30,387.80" fill="none" stroke="#5c0c9c" stroke-width="2.5" stroke-dasharray="6.5 5.5 2 5.5 2 5.5" stroke-linejoin="round"/>
<rect x="51.50" y="255.50" width="214.70" height="172.90" fill="none" stroke="#2e2e2e" stroke-width="1.5"/>
<line x1="48.30" y1="428.40" x2="51.50" y2="428.40" stroke="#2e2e2e" stroke-width="1.2"/>
<text x="45.90" y="432.00" text-anchor="end" font-size="10.6" fill="#111" color="#111">0</text>
<line x1="49.70" y1="411.11" x2="51.50" y2="411.11" stroke="#2e2e2e" stroke-width="1.2"/>
<line x1="266.20" y1="411.11" x2="264.40" y2="411.11" stroke="#2e2e2e" stroke-width="1.2"/>
<line x1="48.30" y1="393.82" x2="51.50" y2="393.82" stroke="#2e2e2e" stroke-width="1.2"/>
<text x="45.90" y="397.42" text-anchor="end" font-size="10.6" fill="#111" color="#111">2</text>
<line x1="266.20" y1="393.82" x2="263.20" y2="393.82" stroke="#2e2e2e" stroke-width="1.2"/>
<line x1="49.70" y1="376.53" x2="51.50" y2="376.53" stroke="#2e2e2e" stroke-width="1.2"/>
<line x1="266.20" y1="376.53" x2="264.40" y2="376.53" stroke="#2e2e2e" stroke-width="1.2"/>
<line x1="48.30" y1="359.24" x2="51.50" y2="359.24" stroke="#2e2e2e" stroke-width="1.2"/>
<text x="45.90" y="362.84" text-anchor="end" font-size="10.6" fill="#111" color="#111">4</text>
<line x1="266.20" y1="359.24" x2="263.20" y2="359.24" stroke="#2e2e2e" stroke-width="1.2"/>
<line x1="49.70" y1="341.95" x2="51.50" y2="341.95" stroke="#2e2e2e" stroke-width="1.2"/>
<line x1="266.20" y1="341.95" x2="264.40" y2="341.95" stroke="#2e2e2e" stroke-width="1.2"/>
<line x1="48.30" y1="324.66" x2="51.50" y2="324.66" stroke="#2e2e2e" stroke-width="1.2"/>
<text x="45.90" y="328.26" text-anchor="end" font-size="10.6" fill="#111" color="#111">6</text>
<line x1="266.20" y1="324.66" x2="263.20" y2="324.66" stroke="#2e2e2e" stroke-width="1.2"/>
<line x1="49.70" y1="307.37" x2="51.50" y2="307.37" stroke="#2e2e2e" stroke-width="1.2"/>
<line x1="266.20" y1="307.37" x2="264.40" y2="307.37" stroke="#2e2e2e" stroke-width="1.2"/>
<line x1="48.30" y1="290.08" x2="51.50" y2="290.08" stroke="#2e2e2e" stroke-width="1.2"/>
<text x="45.90" y="293.68" text-anchor="end" font-size="10.6" fill="#111" color="#111">8</text>
<line x1="266.20" y1="290.08" x2="263.20" y2="290.08" stroke="#2e2e2e" stroke-width="1.2"/>
<line x1="49.70" y1="272.79" x2="51.50" y2="272.79" stroke="#2e2e2e" stroke-width="1.2"/>
<line x1="266.20" y1="272.79" x2="264.40" y2="272.79" stroke="#2e2e2e" stroke-width="1.2"/>
<line x1="48.30" y1="255.50" x2="51.50" y2="255.50" stroke="#2e2e2e" stroke-width="1.2"/>
<text x="45.90" y="259.10" text-anchor="end" font-size="10.6" fill="#111" color="#111">10</text>
<line x1="51.50" y1="428.40" x2="51.50" y2="431.60" stroke="#2e2e2e" stroke-width="1.2"/>
<text x="51.50" y="442.00" text-anchor="middle" font-size="10.6" fill="#111" color="#111">0</text>
<line x1="69.39" y1="428.40" x2="69.39" y2="430.20" stroke="#2e2e2e" stroke-width="1.2"/>
<line x1="69.39" y1="255.50" x2="69.39" y2="257.30" stroke="#2e2e2e" stroke-width="1.2"/>
<line x1="87.28" y1="428.40" x2="87.28" y2="431.60" stroke="#2e2e2e" stroke-width="1.2"/>
<text x="87.28" y="442.00" text-anchor="middle" font-size="10.6" fill="#111" color="#111">5</text>
<line x1="87.28" y1="255.50" x2="87.28" y2="258.50" stroke="#2e2e2e" stroke-width="1.2"/>
<line x1="105.17" y1="428.40" x2="105.17" y2="430.20" stroke="#2e2e2e" stroke-width="1.2"/>
<line x1="105.17" y1="255.50" x2="105.17" y2="257.30" stroke="#2e2e2e" stroke-width="1.2"/>
<line x1="123.07" y1="428.40" x2="123.07" y2="431.60" stroke="#2e2e2e" stroke-width="1.2"/>
<text x="123.07" y="442.00" text-anchor="middle" font-size="10.6" fill="#111" color="#111">10</text>
<line x1="123.07" y1="255.50" x2="123.07" y2="258.50" stroke="#2e2e2e" stroke-width="1.2"/>
<line x1="140.96" y1="428.40" x2="140.96" y2="430.20" stroke="#2e2e2e" stroke-width="1.2"/>
<line x1="140.96" y1="255.50" x2="140.96" y2="257.30" stroke="#2e2e2e" stroke-width="1.2"/>
<line x1="158.85" y1="428.40" x2="158.85" y2="431.60" stroke="#2e2e2e" stroke-width="1.2"/>
<text x="158.85" y="442.00" text-anchor="middle" font-size="10.6" fill="#111" color="#111">15</text>
<line x1="158.85" y1="255.50" x2="158.85" y2="258.50" stroke="#2e2e2e" stroke-width="1.2"/>
<line x1="176.74" y1="428.40" x2="176.74" y2="430.20" stroke="#2e2e2e" stroke-width="1.2"/>
<line x1="176.74" y1="255.50" x2="176.74" y2="257.30" stroke="#2e2e2e" stroke-width="1.2"/>
<line x1="194.63" y1="428.40" x2="194.63" y2="431.60" stroke="#2e2e2e" stroke-width="1.2"/>
<text x="194.63" y="442.00" text-anchor="middle" font-size="10.6" fill="#111" color="#111">20</text>
<line x1="194.63" y1="255.50" x2="194.63" y2="258.50" stroke="#2e2e2e" stroke-width="1.2"/>
<line x1="212.53" y1="428.40" x2="212.53" y2="430.20" stroke="#2e2e2e" stroke-width="1.2"/>
<line x1="212.53" y1="255.50" x2="212.53" y2="257.30" stroke="#2e2e2e" stroke-width="1.2"/>
<line x1="230.42" y1="428.40" x2="230.42" y2="431.60" stroke="#2e2e2e" stroke-width="1.2"/>
<text x="230.42" y="442.00" text-anchor="middle" font-size="10.6" fill="#111" color="#111">25</text>
<line x1="230.42" y1="255.50" x2="230.42" y2="258.50" stroke="#2e2e2e" stroke-width="1.2"/>
<line x1="248.31" y1="428.40" x2="248.31" y2="430.20" stroke="#2e2e2e" stroke-width="1.2"/>
<line x1="248.31" y1="255.50" x2="248.31" y2="257.30" stroke="#2e2e2e" stroke-width="1.2"/>
<line x1="266.20" y1="428.40" x2="266.20" y2="431.60" stroke="#2e2e2e" stroke-width="1.2"/>
<text x="266.20" y="442.00" text-anchor="middle" font-size="10.6" fill="#111" color="#111">30</text>
<text x="158.85" y="460.50" text-anchor="middle" font-size="14.4" fill="#111" color="#111">Time (minutes)</text>
<text transform="translate(22.20,337.45) rotate(-90)" text-anchor="middle" font-size="14.7" fill="#111" color="#111">Torque (Nm)</text>
<rect x="55.50" y="261.10" width="126.3" height="61.4" fill="#fff" stroke="#9a9a9a" stroke-width="1"/>
<line x1="56.10" y1="267.70" x2="80.10" y2="267.70" stroke="#383838" stroke-width="2.1" stroke-dasharray="none"/>
<text x="81.80" y="271.20" font-size="9.9" fill="#111" color="#111">EV/5-ZnO (control-EV)</text>
<line x1="56.10" y1="279.75" x2="80.10" y2="279.75" stroke="#f0282a" stroke-width="2.1" stroke-dasharray="9.5 8"/>
<text x="81.80" y="283.25" font-size="9.9" fill="#111" color="#111">EV/5-ZnO/1-MgO</text>
<line x1="56.10" y1="291.80" x2="80.10" y2="291.80" stroke="#1a64e0" stroke-width="2.1" stroke-dasharray="11 4 3 10"/>
<text x="81.80" y="295.30" font-size="9.9" fill="#111" color="#111">EV/5-ZnO/2-MgO</text>
<line x1="56.10" y1="303.85" x2="80.10" y2="303.85" stroke="#ff00f0" stroke-width="2.1" stroke-dasharray="5 3"/>
<text x="81.80" y="307.35" font-size="9.9" fill="#111" color="#111">EV/5-ZnO/3-MgO</text>
<line x1="56.10" y1="315.90" x2="80.10" y2="315.90" stroke="#5c0c9c" stroke-width="2.1" stroke-dasharray="8.5 4.5 3 4 3 4"/>
<text x="81.80" y="319.40" font-size="9.9" fill="#111" color="#111">EV/5-MgO</text>
<text x="260.30" y="273.40" text-anchor="end" font-size="10.9" fill="#ff1a1a" color="#ff1a1a" style="stroke-width:0.25px">Temp. 130 <tspan font-size="7.6" dy="-4.2">o</tspan><tspan dy="4.2">C</tspan></text>
<text transform="translate(3.80,253.70) scale(0.920,1)" font-size="17.8" fill="#111" style="stroke:none">(c)</text>
<path d="M322.80,422.54 L323.30,422.84 L323.80,423.13 L324.30,423.38 L324.80,423.56 L325.30,423.70 L325.80,423.81 L326.30,423.90 L326.80,423.98 L327.30,424.05 L327.80,424.11 L328.30,424.17 L328.80,424.21 L329.30,424.24 L329.80,424.27 L330.30,424.28 L330.80,424.29 L331.30,424.29 L331.80,424.29 L332.30,424.28 L332.80,424.27 L333.30,424.25 L333.80,424.23 L334.30,424.20 L334.80,424.16 L335.30,424.10 L335.80,424.04 L336.30,423.96 L336.80,423.87 L337.30,423.77 L337.80,423.64 L338.30,423.50 L338.80,423.35 L339.30,423.18 L339.80,422.99 L340.30,422.80 L340.80,422.60 L341.30,422.39 L341.80,422.16 L342.30,421.93 L342.80,421.67 L343.30,421.40 L343.80,421.11 L344.30,420.80 L344.80,420.45 L345.30,420.08 L345.80,419.68 L346.30,419.25 L346.80,418.78 L347.30,418.27 L347.80,417.72 L348.30,417.14 L348.80,416.51 L349.30,415.85 L349.80,415.16 L350.30,414.42 L350.80,413.65 L351.30,412.83 L351.80,411.98 L352.30,411.09 L352.80,410.16 L353.30,409.20 L353.80,408.18 L354.30,407.13 L354.80,406.01 L355.30,404.84 L355.80,403.59 L356.30,402.26 L356.80,400.85 L357.30,399.36 L357.80,397.82 L358.30,396.24 L358.80,394.64 L359.30,393.05 L359.80,391.47 L360.30,389.93 L360.80,388.44 L361.30,387.02 L361.80,385.65 L362.30,384.33 L362.80,383.05 L363.30,381.81 L363.80,380.60 L364.30,379.43 L364.80,378.29 L365.30,377.19 L365.80,376.14 L366.30,375.14 L366.80,374.20 L367.30,373.31 L367.80,372.48 L368.30,371.70 L368.80,370.97 L369.30,370.29 L369.80,369.64 L370.30,369.03 L370.80,368.45 L371.30,367.91 L371.80,367.39 L372.30,366.89 L372.80,366.42 L373.30,365.97 L373.80,365.54 L374.30,365.13 L374.80,364.73 L375.30,364.34 L375.80,363.97 L376.30,363.61 L376.80,363.26 L377.30,362.92 L377.80,362.60 L378.30,362.30 L378.80,362.01 L379.30,361.74 L379.80,361.48 L380.30,361.24 L380.80,361.01 L381.30,360.79 L381.80,360.58 L382.30,360.38 L382.80,360.19 L383.30,360.01 L383.80,359.83 L384.30,359.66 L384.80,359.49 L385.30,359.33 L385.80,359.16 L386.30,359.00 L386.80,358.84 L387.30,358.69 L387.80,358.53 L388.30,358.38 L388.80,358.23 L389.30,358.08 L389.80,357.94 L390.30,357.80 L390.80,357.66 L391.30,357.53 L391.80,357.39 L392.30,357.27 L392.80,357.14 L393.30,357.02 L393.80,356.90 L394.30,356.79 L394.80,356.68 L395.30,356.58 L395.80,356.47 L396.30,356.38 L396.80,356.29 L397.30,356.20 L397.80,356.12 L398.30,356.04 L398.80,355.96 L399.30,355.90 L399.80,355.83 L400.30,355.77 L400.80,355.71 L401.30,355.66 L401.80,355.60 L402.30,355.55 L402.80,355.49 L403.30,355.44 L403.80,355.39 L404.30,355.34 L404.80,355.30 L405.30,355.25 L405.80,355.20 L406.30,355.16 L406.80,355.11 L407.30,355.07 L407.80,355.03 L408.30,354.99 L408.80,354.95 L409.30,354.91 L409.80,354.87 L410.30,354.83 L410.80,354.80 L411.30,354.76 L411.80,354.72 L412.30,354.69 L412.80,354.66 L413.30,354.62 L413.80,354.59 L414.30,354.56 L414.80,354.53 L415.30,354.50 L415.80,354.47 L416.30,354.44 L416.80,354.41 L417.30,354.39 L417.80,354.36 L418.30,354.33 L418.80,354.31 L419.30,354.28 L419.80,354.26 L420.30,354.23 L420.80,354.21 L421.30,354.19 L421.80,354.16 L422.30,354.14 L422.80,354.12 L423.30,354.10 L423.80,354.07 L424.30,354.05 L424.80,354.03 L425.30,354.01 L425.80,353.99 L426.30,353.97 L426.80,353.95 L427.30,353.93 L427.80,353.91 L428.30,353.90 L428.80,353.88 L429.30,353.86 L429.80,353.84 L430.30,353.82 L430.80,353.80 L431.30,353.79 L431.80,353.77 L432.30,353.75 L432.80,353.73 L433.30,353.72 L433.80,353.70 L434.30,353.69 L434.80,353.67 L435.30,353.66 L435.80,353.64 L436.30,353.63 L436.80,353.61 L437.30,353.60 L437.80,353.59 L438.30,353.58 L438.80,353.56 L439.30,353.55 L439.80,353.54 L440.30,353.53 L440.80,353.52 L441.30,353.51 L441.80,353.50 L442.30,353.48 L442.80,353.47 L443.30,353.47 L443.80,353.46 L444.30,353.45 L444.80,353.44 L445.30,353.43 L445.80,353.42 L446.30,353.41 L446.80,353.41 L447.30,353.40 L447.80,353.39 L448.30,353.38 L448.80,353.38 L449.30,353.37 L449.80,353.36 L450.30,353.36 L450.80,353.35 L451.30,353.34 L451.80,353.34 L452.30,353.33 L452.80,353.33 L453.30,353.32 L453.80,353.32 L454.30,353.31 L454.80,353.31 L455.30,353.30 L455.80,353.30 L456.30,353.29 L456.80,353.29 L457.30,353.29 L457.80,353.28 L458.30,353.28 L458.80,353.28 L459.30,353.27 L459.80,353.27 L460.30,353.27 L460.80,353.26 L461.30,353.26 L461.80,353.26 L462.30,353.25 L462.80,353.25 L463.30,353.25 L463.80,353.24 L464.30,353.24 L464.80,353.24 L465.30,353.24 L465.80,353.23 L466.30,353.23 L466.80,353.23 L467.30,353.22 L467.80,353.22 L468.30,353.22 L468.80,353.22 L469.30,353.21 L469.80,353.21 L470.30,353.21 L470.80,353.21 L471.30,353.20 L471.80,353.20 L472.30,353.20 L472.80,353.19 L473.30,353.19 L473.80,353.19 L474.30,353.19 L474.80,353.18 L475.30,353.18 L475.80,353.18 L476.30,353.18 L476.80,353.18 L477.30,353.17 L477.80,353.17 L478.30,353.17 L478.80,353.17 L479.30,353.17 L479.80,353.17 L480.30,353.16 L480.80,353.16 L481.30,353.16 L481.80,353.16 L482.30,353.16 L482.80,353.16 L483.30,353.16 L483.80,353.16 L484.30,353.15 L484.80,353.15 L485.30,353.15 L485.80,353.15 L486.30,353.15 L486.80,353.15 L487.30,353.15 L487.80,353.15 L488.30,353.15 L488.80,353.15 L489.30,353.15 L489.80,353.15 L490.30,353.15 L490.80,353.15 L491.30,353.15 L491.80,353.15 L492.30,353.15 L492.80,353.15 L493.30,353.15 L493.80,353.15 L494.30,353.15 L494.80,353.15 L495.30,353.15 L495.80,353.15 L496.30,353.15 L496.80,353.15 L497.30,353.15 L497.80,353.15 L498.30,353.15 L498.80,353.15 L499.30,353.15 L499.80,353.15 L500.30,353.15 L500.80,353.15 L501.30,353.15 L501.80,353.15 L502.30,353.15 L502.80,353.15 L503.30,353.15 L503.80,353.15 L504.30,353.15 L504.80,353.15 L505.30,353.15 L505.80,353.16 L506.30,353.16 L506.80,353.16 L507.30,353.16 L507.80,353.16 L508.30,353.16 L508.80,353.16 L509.30,353.16 L509.80,353.16 L510.30,353.16 L510.80,353.16 L511.30,353.16 L511.80,353.17 L512.30,353.17 L512.80,353.17 L513.30,353.17 L513.80,353.17 L514.30,353.17 L514.80,353.17 L515.30,353.17 L515.80,353.17 L516.30,353.17 L516.80,353.17 L517.30,353.18 L517.80,353.18 L518.30,353.18 L518.80,353.18 L519.30,353.18 L519.80,353.18 L520.30,353.18 L520.80,353.18 L521.30,353.18 L521.80,353.18 L522.30,353.18 L522.80,353.19 L523.30,353.19 L523.80,353.19 L524.30,353.19 L524.80,353.19 L525.30,353.19 L525.80,353.19 L526.30,353.19 L526.80,353.19 L527.30,353.19 L527.80,353.19 L528.30,353.19 L528.80,353.19 L529.30,353.19 L529.80,353.20 L530.30,353.20 L530.80,353.20 L531.30,353.20 L531.80,353.20 L532.30,353.20 L532.80,353.20 L533.30,353.20 L533.80,353.20 L534.30,353.20 L534.80,353.20 L535.30,353.20 L535.80,353.20 L536.30,353.20 L536.80,353.20 L537.30,353.20 L537.60,353.20" fill="none" stroke="#383838" stroke-width="2.45" stroke-dasharray="none" stroke-linejoin="round"/>
<path d="M322.80,418.00 C325.43,418.67 328.07,420.46 330.70,420.00 C332.47,419.69 334.23,418.07 336.00,415.70 C337.43,413.77 338.87,412.01 340.30,407.10 C341.37,403.44 342.43,396.05 343.50,390.00 C344.57,383.95 345.63,376.32 346.70,370.80 C347.77,365.28 348.83,360.10 349.90,356.90 C351.33,352.60 352.77,349.80 354.20,348.30 C357.07,345.30 359.93,344.18 362.80,343.40 C368.50,341.85 374.20,341.53 379.90,341.30 C386.60,341.03 393.30,341.68 400.00,341.90 C445.87,343.41 491.73,344.97 537.60,346.50" fill="none" stroke="#f0282a" stroke-width="2.4" stroke-dasharray="7 11" stroke-linejoin="round"/>
<path d="M322.80,413.60 C324.73,415.73 326.67,418.98 328.60,420.00 C330.00,420.74 331.40,420.92 332.80,418.90 C333.87,417.36 334.93,413.68 336.00,409.30 C337.10,404.78 338.20,397.99 339.30,392.20 C340.37,386.59 341.43,380.80 342.50,375.10 C343.57,369.40 344.63,362.17 345.70,358.00 C347.10,352.53 348.50,348.55 349.90,346.20 C351.70,343.18 353.50,342.57 355.30,341.90 C359.23,340.44 363.17,340.09 367.10,339.80 C372.80,339.39 378.50,339.71 384.20,339.80 C389.47,339.88 394.73,340.14 400.00,340.30 C445.87,341.71 491.73,343.10 537.60,344.50" fill="none" stroke="#1a64e0" stroke-width="2.4" stroke-dasharray="7 6.5 2 6.5" stroke-linejoin="round"/>
<path d="M322.80,412.50 C324.73,415.00 326.67,419.08 328.60,420.00 C330.37,420.84 332.13,420.92 333.90,417.80 C334.97,415.92 336.03,410.70 337.10,405.00 C338.17,399.30 339.23,390.20 340.30,383.60 C341.37,377.00 342.43,370.11 343.50,365.40 C344.93,359.07 346.37,354.23 347.80,350.50 C349.23,346.77 350.67,344.02 352.10,343.00 C355.67,340.46 359.23,340.05 362.80,339.80 C375.20,338.92 387.60,339.36 400.00,339.60 C445.87,340.49 491.73,342.00 537.60,343.20" fill="none" stroke="#ff00f0" stroke-width="2.4" stroke-dasharray="3.3 4.7" stroke-linejoin="round"/>
<path d="M322.80,428.40 L322.80,420.00" fill="none" stroke="#5c0c9c" stroke-width="2.5" stroke-dasharray="6.5 5.5 2 5.5 2 5.5" stroke-linejoin="round"/>
<path d="M323.20,422.10 C325.33,421.73 327.47,421.72 329.60,421.00 C331.73,420.28 333.87,419.91 336.00,417.80 C337.43,416.38 338.87,413.40 340.30,410.40 C342.10,406.63 343.90,402.11 345.70,397.50 C347.10,393.91 348.50,389.14 349.90,385.80 C351.33,382.38 352.77,378.77 354.20,377.20 C356.70,374.47 359.20,373.67 361.70,372.90 C364.90,371.91 368.10,371.74 371.30,371.90 C375.60,372.11 379.90,372.79 384.20,374.00 C389.47,375.49 394.73,378.27 400.00,380.00 C405.77,381.90 411.53,383.55 417.30,384.90 C426.37,387.02 435.43,388.95 444.50,390.40 C453.60,391.85 462.70,392.70 471.80,393.60 C480.90,394.50 490.00,395.23 499.10,395.80 C511.93,396.60 524.77,397.07 537.60,397.70" fill="none" stroke="#5c0c9c" stroke-width="2.5" stroke-dasharray="6.5 5.5 2 5.5 2 5.5" stroke-linejoin="round"/>
<rect x="322.80" y="255.50" width="214.80" height="172.90" fill="none" stroke="#2e2e2e" stroke-width="1.5"/>
<line x1="319.60" y1="428.40" x2="322.80" y2="428.40" stroke="#2e2e2e" stroke-width="1.2"/>
<text x="317.20" y="432.00" text-anchor="end" font-size="10.6" fill="#111" color="#111">0</text>
<line x1="321.00" y1="411.11" x2="322.80" y2="411.11" stroke="#2e2e2e" stroke-width="1.2"/>
<line x1="537.60" y1="411.11" x2="535.80" y2="411.11" stroke="#2e2e2e" stroke-width="1.2"/>
<line x1="319.60" y1="393.82" x2="322.80" y2="393.82" stroke="#2e2e2e" stroke-width="1.2"/>
<text x="317.20" y="397.42" text-anchor="end" font-size="10.6" fill="#111" color="#111">2</text>
<line x1="537.60" y1="393.82" x2="534.60" y2="393.82" stroke="#2e2e2e" stroke-width="1.2"/>
<line x1="321.00" y1="376.53" x2="322.80" y2="376.53" stroke="#2e2e2e" stroke-width="1.2"/>
<line x1="537.60" y1="376.53" x2="535.80" y2="376.53" stroke="#2e2e2e" stroke-width="1.2"/>
<line x1="319.60" y1="359.24" x2="322.80" y2="359.24" stroke="#2e2e2e" stroke-width="1.2"/>
<text x="317.20" y="362.84" text-anchor="end" font-size="10.6" fill="#111" color="#111">4</text>
<line x1="537.60" y1="359.24" x2="534.60" y2="359.24" stroke="#2e2e2e" stroke-width="1.2"/>
<line x1="321.00" y1="341.95" x2="322.80" y2="341.95" stroke="#2e2e2e" stroke-width="1.2"/>
<line x1="537.60" y1="341.95" x2="535.80" y2="341.95" stroke="#2e2e2e" stroke-width="1.2"/>
<line x1="319.60" y1="324.66" x2="322.80" y2="324.66" stroke="#2e2e2e" stroke-width="1.2"/>
<text x="317.20" y="328.26" text-anchor="end" font-size="10.6" fill="#111" color="#111">6</text>
<line x1="537.60" y1="324.66" x2="534.60" y2="324.66" stroke="#2e2e2e" stroke-width="1.2"/>
<line x1="321.00" y1="307.37" x2="322.80" y2="307.37" stroke="#2e2e2e" stroke-width="1.2"/>
<line x1="537.60" y1="307.37" x2="535.80" y2="307.37" stroke="#2e2e2e" stroke-width="1.2"/>
<line x1="319.60" y1="290.08" x2="322.80" y2="290.08" stroke="#2e2e2e" stroke-width="1.2"/>
<text x="317.20" y="293.68" text-anchor="end" font-size="10.6" fill="#111" color="#111">8</text>
<line x1="537.60" y1="290.08" x2="534.60" y2="290.08" stroke="#2e2e2e" stroke-width="1.2"/>
<line x1="321.00" y1="272.79" x2="322.80" y2="272.79" stroke="#2e2e2e" stroke-width="1.2"/>
<line x1="537.60" y1="272.79" x2="535.80" y2="272.79" stroke="#2e2e2e" stroke-width="1.2"/>
<line x1="319.60" y1="255.50" x2="322.80" y2="255.50" stroke="#2e2e2e" stroke-width="1.2"/>
<text x="317.20" y="259.10" text-anchor="end" font-size="10.6" fill="#111" color="#111">10</text>
<line x1="322.80" y1="428.40" x2="322.80" y2="431.60" stroke="#2e2e2e" stroke-width="1.2"/>
<text x="322.80" y="442.00" text-anchor="middle" font-size="10.6" fill="#111" color="#111">0</text>
<line x1="340.70" y1="428.40" x2="340.70" y2="430.20" stroke="#2e2e2e" stroke-width="1.2"/>
<line x1="340.70" y1="255.50" x2="340.70" y2="257.30" stroke="#2e2e2e" stroke-width="1.2"/>
<line x1="358.60" y1="428.40" x2="358.60" y2="431.60" stroke="#2e2e2e" stroke-width="1.2"/>
<text x="358.60" y="442.00" text-anchor="middle" font-size="10.6" fill="#111" color="#111">5</text>
<line x1="358.60" y1="255.50" x2="358.60" y2="258.50" stroke="#2e2e2e" stroke-width="1.2"/>
<line x1="376.50" y1="428.40" x2="376.50" y2="430.20" stroke="#2e2e2e" stroke-width="1.2"/>
<line x1="376.50" y1="255.50" x2="376.50" y2="257.30" stroke="#2e2e2e" stroke-width="1.2"/>
<line x1="394.40" y1="428.40" x2="394.40" y2="431.60" stroke="#2e2e2e" stroke-width="1.2"/>
<text x="394.40" y="442.00" text-anchor="middle" font-size="10.6" fill="#111" color="#111">10</text>
<line x1="394.40" y1="255.50" x2="394.40" y2="258.50" stroke="#2e2e2e" stroke-width="1.2"/>
<line x1="412.30" y1="428.40" x2="412.30" y2="430.20" stroke="#2e2e2e" stroke-width="1.2"/>
<line x1="412.30" y1="255.50" x2="412.30" y2="257.30" stroke="#2e2e2e" stroke-width="1.2"/>
<line x1="430.20" y1="428.40" x2="430.20" y2="431.60" stroke="#2e2e2e" stroke-width="1.2"/>
<text x="430.20" y="442.00" text-anchor="middle" font-size="10.6" fill="#111" color="#111">15</text>
<line x1="430.20" y1="255.50" x2="430.20" y2="258.50" stroke="#2e2e2e" stroke-width="1.2"/>
<line x1="448.10" y1="428.40" x2="448.10" y2="430.20" stroke="#2e2e2e" stroke-width="1.2"/>
<line x1="448.10" y1="255.50" x2="448.10" y2="257.30" stroke="#2e2e2e" stroke-width="1.2"/>
<line x1="466.00" y1="428.40" x2="466.00" y2="431.60" stroke="#2e2e2e" stroke-width="1.2"/>
<text x="466.00" y="442.00" text-anchor="middle" font-size="10.6" fill="#111" color="#111">20</text>
<line x1="466.00" y1="255.50" x2="466.00" y2="258.50" stroke="#2e2e2e" stroke-width="1.2"/>
<line x1="483.90" y1="428.40" x2="483.90" y2="430.20" stroke="#2e2e2e" stroke-width="1.2"/>
<line x1="483.90" y1="255.50" x2="483.90" y2="257.30" stroke="#2e2e2e" stroke-width="1.2"/>
<line x1="501.80" y1="428.40" x2="501.80" y2="431.60" stroke="#2e2e2e" stroke-width="1.2"/>
<text x="501.80" y="442.00" text-anchor="middle" font-size="10.6" fill="#111" color="#111">25</text>
<line x1="501.80" y1="255.50" x2="501.80" y2="258.50" stroke="#2e2e2e" stroke-width="1.2"/>
<line x1="519.70" y1="428.40" x2="519.70" y2="430.20" stroke="#2e2e2e" stroke-width="1.2"/>
<line x1="519.70" y1="255.50" x2="519.70" y2="257.30" stroke="#2e2e2e" stroke-width="1.2"/>
<line x1="537.60" y1="428.40" x2="537.60" y2="431.60" stroke="#2e2e2e" stroke-width="1.2"/>
<text x="537.60" y="442.00" text-anchor="middle" font-size="10.6" fill="#111" color="#111">30</text>
<text x="430.20" y="460.50" text-anchor="middle" font-size="14.4" fill="#111" color="#111">Time (minutes)</text>
<text transform="translate(293.50,336.45) rotate(-90)" text-anchor="middle" font-size="14.7" fill="#111" color="#111">Torque (Nm)</text>
<rect x="326.80" y="261.10" width="126.3" height="61.4" fill="#fff" stroke="#9a9a9a" stroke-width="1"/>
<line x1="327.40" y1="267.70" x2="351.40" y2="267.70" stroke="#383838" stroke-width="2.1" stroke-dasharray="none"/>
<text x="353.10" y="271.20" font-size="9.9" fill="#111" color="#111">EV/5-ZnO (control-EV)</text>
<line x1="327.40" y1="279.75" x2="351.40" y2="279.75" stroke="#f0282a" stroke-width="2.1" stroke-dasharray="9.5 8"/>
<text x="353.10" y="283.25" font-size="9.9" fill="#111" color="#111">EV/5-ZnO/1-MgO</text>
<line x1="327.40" y1="291.80" x2="351.40" y2="291.80" stroke="#1a64e0" stroke-width="2.1" stroke-dasharray="11 4 3 10"/>
<text x="353.10" y="295.30" font-size="9.9" fill="#111" color="#111">EV/5-ZnO/2-MgO</text>
<line x1="327.40" y1="303.85" x2="351.40" y2="303.85" stroke="#ff00f0" stroke-width="2.1" stroke-dasharray="5 3"/>
<text x="353.10" y="307.35" font-size="9.9" fill="#111" color="#111">EV/5-ZnO/3-MgO</text>
<line x1="327.40" y1="315.90" x2="351.40" y2="315.90" stroke="#5c0c9c" stroke-width="2.1" stroke-dasharray="8.5 4.5 3 4 3 4"/>
<text x="353.10" y="319.40" font-size="9.9" fill="#111" color="#111">EV/5-MgO</text>
<text x="532.50" y="273.40" text-anchor="end" font-size="10.9" fill="#ff1a1a" color="#ff1a1a" style="stroke-width:0.25px">Temp. 140 <tspan font-size="7.6" dy="-4.2">o</tspan><tspan dy="4.2">C</tspan></text>
<text transform="translate(275.00,253.80) scale(0.990,1)" font-size="17.8" fill="#111" style="stroke:none">(d)</text>
</svg>
</body></html>
